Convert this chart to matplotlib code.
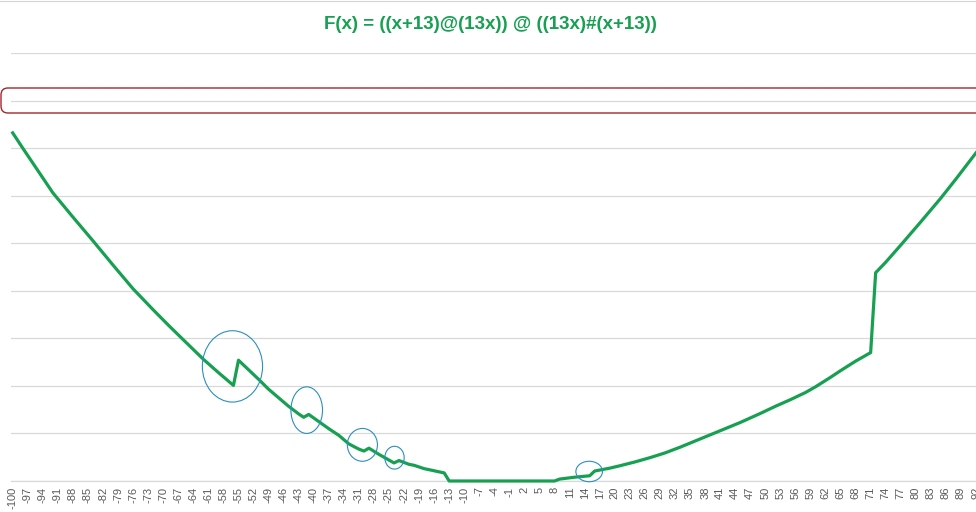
import matplotlib
matplotlib.use("Agg")
import matplotlib.pyplot as plt
import numpy as np
from matplotlib.patches import Ellipse, FancyBboxPatch
from matplotlib.transforms import IdentityTransform

# значения (единица = один шаг сетки)
x_points = [-100, -98, -95, -92, -88, -84, -80, -76, -72, -69, -66, -62, -59,
            -56, -55, -53, -51, -49, -47, -45, -43, -42, -41, -39, -37, -35,
            -33, -31, -30, -29, -27, -24, -23, -21, -20, -18, -14, -13, 8, 9,
            12, 15, 16, 19, 21, 24, 27, 30, 33, 36, 39, 42, 45, 49, 52, 55, 58,
            60, 63, 65, 68, 71, 72, 74, 77, 81, 85, 88, 92]
f_values = [7.32, 7.00, 6.53, 6.06, 5.55, 5.05, 4.54, 4.04, 3.60, 3.28, 2.97,
            2.56, 2.28, 2.01, 2.54, 2.34, 2.14, 1.93, 1.75, 1.57, 1.41, 1.34,
            1.40, 1.25, 1.10, 0.96, 0.78, 0.67, 0.63, 0.69, 0.56, 0.38, 0.43,
            0.35, 0.33, 0.26, 0.17, 0.0, 0.0, 0.04, 0.08, 0.11, 0.21, 0.27,
            0.32, 0.40, 0.49, 0.59, 0.71, 0.84, 0.97, 1.10, 1.23, 1.42, 1.57,
            1.71, 1.86, 1.98, 2.18, 2.32, 2.52, 2.70, 4.38, 4.60, 4.96, 5.45,
            5.95, 6.35, 6.90]

tick_labels = list(range(-100, 93, 3))

# обведённые "глюки": центр x, центр y, ширина, высота
glitch_marks = [(-56.2, 2.41, 12.0, 1.50),
                (-41.4, 1.49, 6.3, 0.98),
                (-30.3, 0.76, 6.0, 0.69),
                (-23.9, 0.49, 3.85, 0.48),
                (14.9, 0.20, 5.3, 0.43)]

title = "F(x) = ((x+13)@(13x)) @ ((13x)#(x+13))"

fig = plt.figure(figsize=(9.76, 5.12), dpi=100)
ax = fig.add_axes([11 / 976, 31 / 512, 965 / 976, 428 / 512])

ax.plot(x_points, f_values, color='#17a052', lw=2.3, clip_on=False, zorder=3)

ax.set_xlim(-100.34, 92.0)
ax.set_ylim(0, 9)
ax.set_yticks(range(0, 10))
ax.yaxis.grid(True, color='#d9d9d9', lw=0.9)
ax.set_axisbelow(True)
ax.tick_params(axis='y', length=0, labelleft=False)

ax.set_xticks(tick_labels)
ax.set_xticklabels([str(t) for t in tick_labels], rotation=90,
                   fontsize=8, color='#595959', family='Liberation Sans')
ax.tick_params(axis='x', length=0, pad=4)

for side in ['left', 'right', 'top']:
    ax.spines[side].set_visible(False)
ax.spines['bottom'].set_color('#d9d9d9')
ax.spines['bottom'].set_linewidth(0.9)

for cx, cy, w, h in glitch_marks:
    ax.add_patch(Ellipse((cx, cy), w, h, fill=False, edgecolor='#2b8fbf',
                         lw=0.8, clip_on=False, zorder=4))

# красная рамка вокруг линии сетки
box = FancyBboxPatch((1, 512 - 113), 1000, 25,
                     boxstyle='round,pad=0,rounding_size=7',
                     fill=False, edgecolor='#a3262e', lw=1.0,
                     transform=IdentityTransform())
fig.patches.append(box)

fig.add_artist(plt.Line2D([0, 1], [0.998, 0.998], color='#d4d4d4', lw=0.8,
                          transform=fig.transFigure))

fig.text(0.503, 0.953, title, ha='center', va='center', fontsize=13.5,
         fontweight='bold', color='#17a052', family='Liberation Sans')

fig.savefig('out.png', dpi=100)
plt.close()
